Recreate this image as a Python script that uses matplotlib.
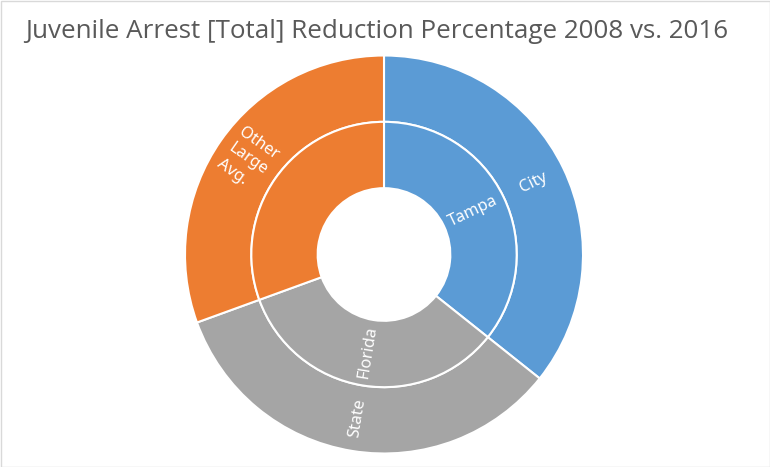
import matplotlib
matplotlib.use("Agg")
import matplotlib.pyplot as plt
from matplotlib.patches import Rectangle
import numpy as np

title = "Juvenile Arrest [Total] Reduction Percentage 2008 vs. 2016"
inner_labels = ["Tampa", "Florida", ""]
outer_labels = ["City", "State", "Other\nLarge\nAvg."]
values = [35.7, 33.75, 30.55]
colors = ["#5B9BD5", "#A5A5A5", "#ED7D31"]

W, H = 770, 467
fig = plt.figure(figsize=(W / 100, H / 100), dpi=100)
fig.patch.set_facecolor("white")

cx, cy, R = 384, 254.5, 199  # pixels, from top
half = 205
ax = fig.add_axes([(cx - half) / W, (H - cy - half) / H, 2 * half / W, 2 * half / H])

wp = dict(edgecolor="white", linewidth=1.5)
ax.pie(values, radius=1.0, colors=colors, startangle=90, counterclock=False,
       wedgeprops=dict(width=1 / 3, **wp))
ax.pie(values, radius=2 / 3, colors=colors, startangle=90, counterclock=False,
       wedgeprops=dict(width=1 / 3, **wp))
lim = half / R
ax.set_xlim(-lim, lim)
ax.set_ylim(-lim, lim)
ax.set_aspect("equal")
ax.axis("off")

total = sum(values)
start = 90.0
font = "Noto Sans"
for v, il, ol in zip(values, inner_labels, outer_labels):
    span = v / total * 360
    mid = start - span / 2
    start -= span
    rot = mid
    if rot > 90:
        rot -= 180
    elif rot < -90:
        rot += 180
    for lab, r in ((il, 0.5), (ol, 5 / 6)):
        if not lab:
            continue
        x = r * np.cos(np.radians(mid))
        y = r * np.sin(np.radians(mid))
        ax.text(x, y, lab, rotation=rot, rotation_mode="anchor", ha="center",
                va="center", color="white", fontsize=11.8, family=font,
                multialignment="left", linespacing=1.25)

fig.text(377 / W, 1 - 32 / H, title, ha="center", va="center", color="#595959",
         fontsize=18.7, family="Open Sans", fontstretch="normal")

fig.patches.append(Rectangle((0.5 / W, 0.5 / H), 1 - 1 / W, 1 - 1 / H,
                             transform=fig.transFigure, fill=False,
                             edgecolor="#D9D9D9", linewidth=1))

fig.savefig("out.png", dpi=100)
